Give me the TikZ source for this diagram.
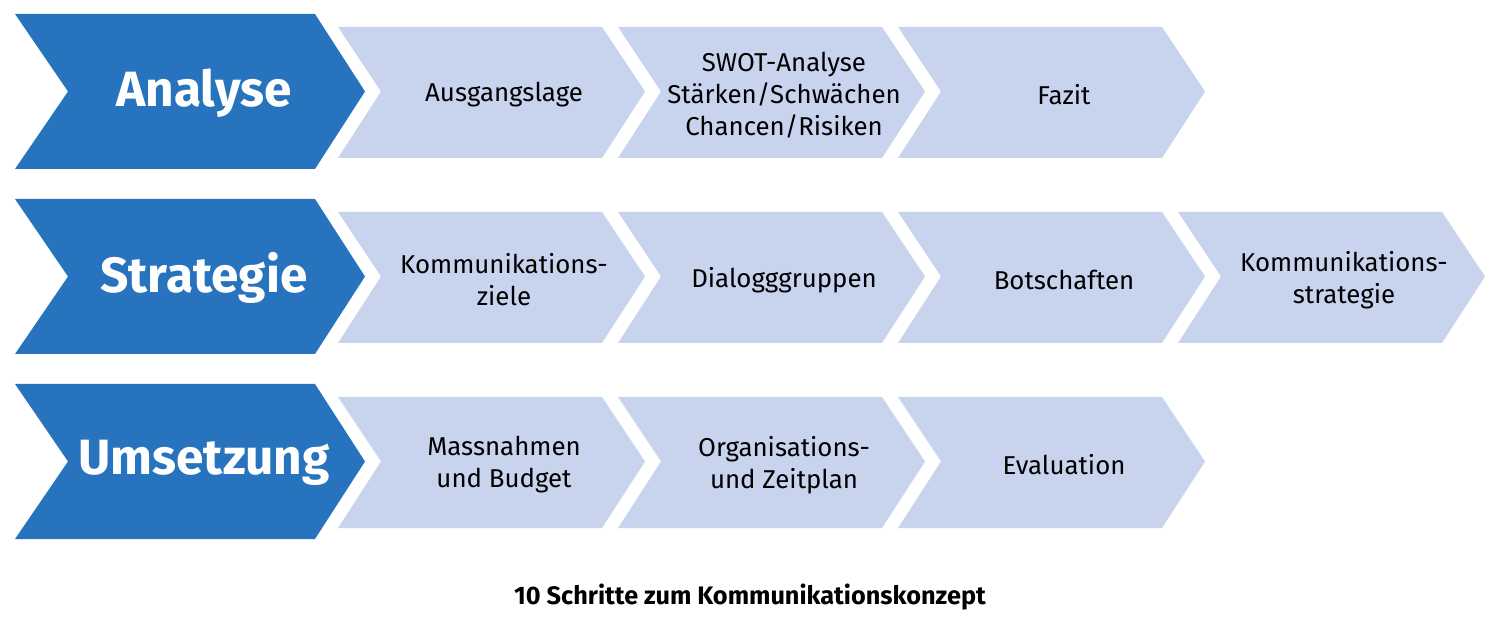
\documentclass[tikz,border=0pt]{standalone}
\usepackage{fontspec}
\setmainfont{Fira Sans}
\definecolor{darkblue}{RGB}{39,115,189}
\definecolor{lightblue}{RGB}{200,211,238}
\tikzset{
    phase/.style={fill=darkblue},
    stepfill/.style={fill=lightblue},
    phasetext/.style={text=white, font=\fontsize{28.2}{31}\selectfont\bfseries},
    steptext/.style={align=center, font=\fontsize{14.7}{18.2}\selectfont},
}
\begin{document}
\begin{tikzpicture}[x=0.02cm, y=-0.02cm]
        \useasboundingbox (0,0) rectangle (1500,624);
        % dark phase chevrons
        \foreach \y in {14, 199, 384} {
            \fill[phase] (15,\y) -- (315,\y) -- (365,\y+77.5) -- (315,\y+155)
                -- (15,\y+155) -- (68,\y+77.5) -- cycle;
        }
        % light step chevrons
        \foreach \y/\n in {14/3, 199/4, 384/3} {
            \foreach \k in {1,...,\n} {
                \pgfmathsetmacro{\L}{338+280*(\k-1)}
                \fill[stepfill] (\L,\y+13) -- (\L+264,\y+13) -- (\L+307,\y+77.5)
                    -- (\L+264,\y+144) -- (\L,\y+144) -- (\L+43,\y+77.5) -- cycle;
            }
        }
        \node[phasetext] (analyse)   at (204, 93)  {Analyse};
        \node[phasetext] (strategie) at (204, 278) {Strategie};
        \node[phasetext] (umsetzung) at (204, 463) {Umsetzung};
        \node[steptext] (a1) at (504, 95)   {Ausgangslage};
        \node[steptext] (a2) at (784, 95)   {SWOT-Analyse\\Stärken/Schwächen\\Chancen/Risiken};
        \node[steptext] (a3) at (1064, 95)  {Fazit};
        \node[steptext] (s1) at (504, 280)  {Kommunikations-\\ziele};
        \node[steptext] (s2) at (784, 280)  {Dialogggruppen};
        \node[steptext] (s3) at (1064, 280) {Botschaften};
        \node[steptext] (s4) at (1344, 280) {Kommunikations-\\strategie};
        \node[steptext] (u1) at (504, 465)  {Massnahmen\\und Budget};
        \node[steptext] (u2) at (784, 465)  {Organisations-\\und Zeitplan};
        \node[steptext] (u3) at (1064, 465) {Evaluation};
        \node[font=\fontsize{14.4}{17}\selectfont\bfseries] (caption) at (750, 597)
            {10 Schritte zum Kommunikationskonzept};
\end{tikzpicture}
\end{document}
